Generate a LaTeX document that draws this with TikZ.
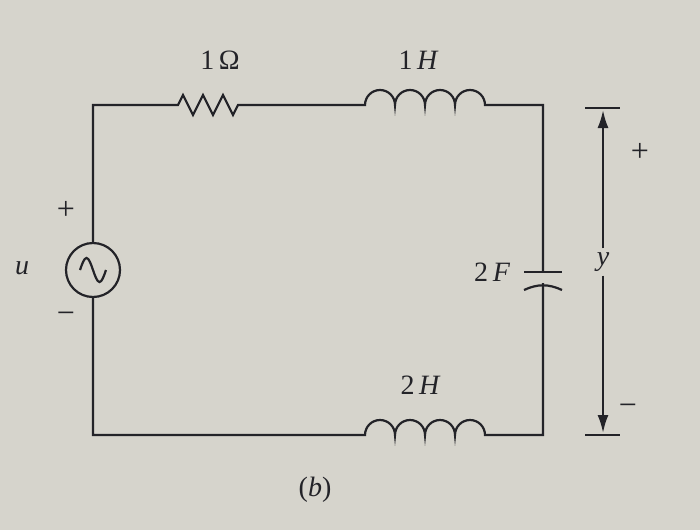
\documentclass[tikz,border=0pt]{standalone}
\usepackage{fontspec}
\setmainfont{Liberation Serif}
\usetikzlibrary{arrows.meta}
\definecolor{bg}{RGB}{214,212,204}
\definecolor{ink}{RGB}{35,35,40}
\begin{document}
\begin{tikzpicture}[x=1pt,y=-1pt,line width=2.2pt,color=ink,
  lbl/.style={font=\fontsize{28}{30}\selectfont\itshape},
  sgn/.style={font=\fontsize{32}{32}\selectfont}]
\fill[bg] (0,0) rectangle (700,530);
\useasboundingbox (0,0) rectangle (700,530);
\coordinate (tl) at (93,105); \coordinate (tr) at (543,105);
\coordinate (bl) at (93,435); \coordinate (br) at (543,435);
\node[circle,draw,line width=2.2pt,minimum size=54pt,inner sep=0] (src) at (93,270) {};
\draw (80,270) sin (86.5,258) cos (93,270) sin (99.5,282) cos (106,270);
\draw (src.north) -- (tl) -- (178,105) -- (183,95) -- (193,115) -- (203,95) -- (213,115) -- (223,95) -- (233,115) -- (238,105) -- (365,105)
  arc[start angle=180,end angle=360,radius=15] arc[start angle=180,end angle=360,radius=15]
  arc[start angle=180,end angle=360,radius=15] arc[start angle=180,end angle=360,radius=15] -- (tr) -- (543,272);
\draw (524,272) -- (562,272);
\draw (524,290) to[bend left=25] (562,290);
\draw (543,283) -- (br) -- (485,435)
  arc[start angle=0,end angle=-180,radius=15] arc[start angle=0,end angle=-180,radius=15]
  arc[start angle=0,end angle=-180,radius=15] arc[start angle=0,end angle=-180,radius=15] -- (bl) -- (src.south);
\node[lbl] at (220,60) {{\upshape 1\,Ω}};
\node[lbl] at (418,60) {{\upshape 1\,}H};
\node[lbl] at (492,272) {{\upshape 2\,}F};
\node[lbl] at (420,385) {{\upshape 2\,}H};
\node[lbl] at (22,268) {u};
\node[sgn] at (66,210) {+};
\node[sgn] at (66,318) {−};
\node[lbl] (b) at (315,490) {{\upshape(}b{\upshape)}};
\draw (585,108) -- (620,108); \draw (585,435) -- (620,435);
\coordinate (yt) at (603,110); \coordinate (yb) at (603,433);
\node[lbl,fill=bg,inner sep=3pt] (yl) at (603,262) {y};
\draw[-{Latex[length=18pt,width=11pt]}] (yl.north) -- (yt);
\draw[-{Latex[length=18pt,width=11pt]}] (yl.south) -- (yb);
\node[sgn] at (640,152) {+};
\node[sgn] at (628,410) {−};
\end{tikzpicture}
\end{document}
